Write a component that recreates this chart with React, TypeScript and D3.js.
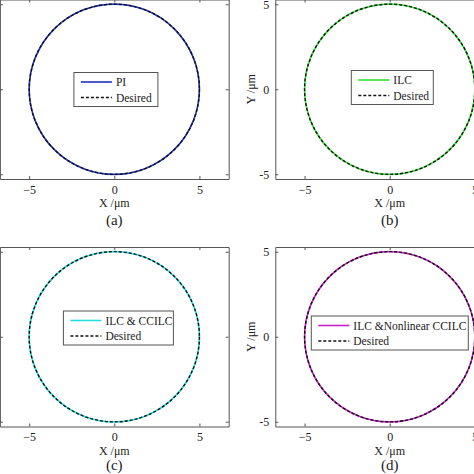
import { useRef, useEffect, useMemo } from 'react';
import * as d3 from 'd3';

// data
const panelLabels = ['(a)', '(b)', '(c)', '(d)'];
const seriesNames = ['PI', 'ILC', 'ILC & CCILC', 'ILC &Nonlinear CCILC'];
const referenceName = 'Desired';
const circleRadius = 5; // μm, tracked and desired circle
const tickValues = [-5, 0, 5];
const xDomain: [number, number] = [-6.72, 6.72];
const yDomain: [number, number] = [-5.28, 5.28];
const xLabel = 'X /μm';
const yLabel = 'Y /μm';

// styles / layout
const seriesColors = ['#2030c0', '#33e033', '#22dede', '#c820c8'];
const panelOrigins = [
  { left: -0.1, top: -0.5, caption: 41 },
  { left: 275.3, top: -0.5, caption: 41 },
  { left: -0.1, top: 247, caption: 38 },
  { left: 275.3, top: 247, caption: 38 },
];
const legendBoxes = [
  { dx: 74, dy: 73, w: 84 },
  { dx: 76, dy: 71, w: 82 },
  { dx: 63.5, dy: 64, w: 110 },
  { dx: 36, dy: 69, w: 157 },
];
const plotWidth = 228.8;
const plotHeight = 179.5;
const font = '"Liberation Serif", "Times New Roman", serif';
const frameColor = '#555';

type PanelProps = { index: number };

const Panel: React.FC<PanelProps> = ({ index }) => {
  const gx = useRef<SVGGElement>(null);
  const gy = useRef<SVGGElement>(null);
  const gt = useRef<SVGGElement>(null);
  const gr = useRef<SVGGElement>(null);
  const { left, top, caption } = panelOrigins[index];
  // left column is cropped in the source image, its y labels fall outside
  const showY = left > 0;

  const x = useMemo(() => d3.scaleLinear().domain(xDomain).range([0, plotWidth]), []);
  const y = useMemo(() => d3.scaleLinear().domain(yDomain).range([plotHeight, 0]), []);

  useEffect(() => {
    const style = (sel: d3.Selection<SVGGElement, unknown, null, undefined>) => {
      sel.attr('font-family', font).attr('font-size', 12);
      sel.selectAll('path.domain').attr('stroke', frameColor);
      sel.selectAll('.tick line').attr('stroke', frameColor);
      sel.selectAll('.tick text').attr('fill', '#222');
    };
    const bx = d3.select(gx.current!);
    bx.call(d3.axisBottom(x).tickValues(tickValues).tickSizeInner(-3).tickSizeOuter(0).tickPadding(6));
    style(bx);
    const by = d3.select(gy.current!);
    by.call(
      d3
        .axisLeft(y)
        .tickValues(tickValues)
        .tickSizeInner(-3)
        .tickSizeOuter(0)
        .tickPadding(6)
        .tickFormat((d) => (showY ? String(d) : '')),
    );
    style(by);
    const bt = d3.select(gt.current!);
    bt.call(d3.axisTop(x).tickValues(tickValues).tickSizeInner(-3).tickSizeOuter(0).tickFormat(() => ''));
    style(bt);
    const br = d3.select(gr.current!);
    br.call(d3.axisRight(y).tickValues(tickValues).tickSizeInner(-3).tickSizeOuter(0).tickFormat(() => ''));
    style(br);
    return () => {
      [gx, gy, gt, gr].forEach((r) => r.current && d3.select(r.current).selectAll('*').remove());
    };
  }, [x, y, showY]);

  const color = seriesColors[index];
  const cx = x(0);
  const cy = y(0);
  const r = x(circleRadius) - x(0);
  const lg = legendBoxes[index];
  const row1 = lg.dy + 9.5;
  const row2 = lg.dy + 25;

  return (
    <g transform={`translate(${left},${top})`}>
      <rect x={0} y={0} width={plotWidth} height={plotHeight} fill="#fff" />
      <circle cx={cx} cy={cy} r={r} fill="none" stroke={color} strokeWidth={1.6} />
      <circle cx={cx} cy={cy} r={r} fill="none" stroke="#111" strokeWidth={1.4} strokeDasharray="3,2" />
      <g ref={gt} />
      <g ref={gr} transform={`translate(${plotWidth},0)`} />
      <g ref={gx} transform={`translate(0,${plotHeight})`} />
      <g ref={gy} />
      <rect x={lg.dx} y={lg.dy} width={lg.w} height={34} fill="#fff" stroke={frameColor} strokeWidth={1} />
      <line x1={lg.dx + 7} x2={lg.dx + 38} y1={row1} y2={row1} stroke={color} strokeWidth={1.6} />
      <line x1={lg.dx + 7} x2={lg.dx + 38} y1={row2} y2={row2} stroke="#111" strokeWidth={1.4} strokeDasharray="3,2" />
      <text x={lg.dx + 42} y={row1} dy="0.35em" fontFamily={font} fontSize={11.5} fill="#222">
        {seriesNames[index]}
      </text>
      <text x={lg.dx + 42} y={row2} dy="0.35em" fontFamily={font} fontSize={11.5} fill="#222">
        {referenceName}
      </text>
      <text x={cx} y={plotHeight + 24} dy="0.35em" textAnchor="middle" fontFamily={font} fontSize={12} fill="#222">
        {xLabel}
      </text>
      {showY && (
        <text
          transform={`translate(-25,${cy}) rotate(-90)`}
          dy="0.35em"
          textAnchor="middle"
          fontFamily={font}
          fontSize={12}
          fill="#222"
        >
          {yLabel}
        </text>
      )}
      <text x={cx} y={plotHeight + caption} dy="0.35em" textAnchor="middle" fontFamily={font} fontSize={15} fill="#222">
        {panelLabels[index]}
      </text>
    </g>
  );
};

export default function App() {
  return (
    <svg width={474} height={474} style={{ position: 'absolute', left: 0, top: 0, background: '#fff' }}>
      <rect width={474} height={474} fill="#fff" />
      {panelLabels.map((_, i) => (
        <Panel key={i} index={i} />
      ))}
    </svg>
  );
}
